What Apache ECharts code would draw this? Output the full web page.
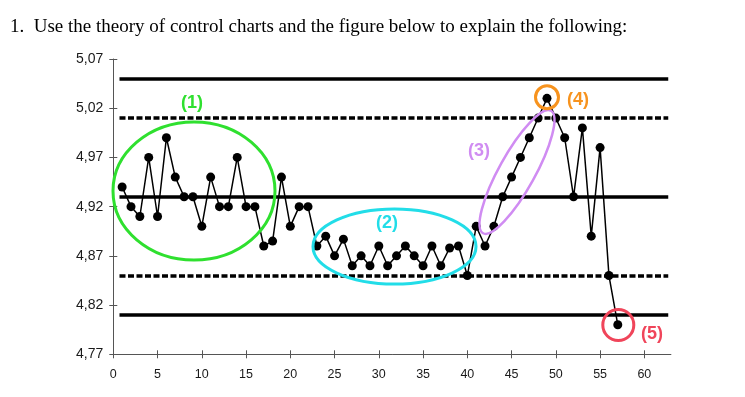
<!DOCTYPE html>
<html>
<head>
<meta charset="utf-8">
<script src="https://cdn.jsdelivr.net/npm/echarts@6/dist/echarts.min.js"></script>
<style>
  html, body { margin: 0; padding: 0; background: #fff; }
  #chart-box { width: 745px; height: 397px; }
</style>
</head>
<body>
<div id="chart-box"></div>
<script>
// sample values, sample n = index + 1
const sampleValues = [4.94, 4.92, 4.91, 4.97, 4.91, 4.99, 4.95, 4.93, 4.93, 4.90,
  4.95, 4.92, 4.92, 4.97, 4.92, 4.92, 4.88, 4.885, 4.95, 4.90,
  4.92, 4.92, 4.88, 4.89, 4.87, 4.887, 4.86, 4.87, 4.86, 4.88,
  4.86, 4.87, 4.88, 4.87, 4.86, 4.88, 4.86, 4.878, 4.88, 4.85,
  4.90, 4.88, 4.90, 4.93, 4.95, 4.97, 4.99, 5.01, 5.03, 5.01,
  4.99, 4.93, 5.00, 4.89, 4.98, 4.85, 4.80];
const limitLines = [5.05, 4.93, 4.81];   // UCL, CL, LCL
const warnLines = [5.01, 4.85];
const xTicks = [0, 5, 10, 15, 20, 25, 30, 35, 40, 45, 50, 55, 60];
const yTicks = [4.77, 4.82, 4.87, 4.92, 4.97, 5.02, 5.07];
const noteLabels = ['(1)', '(2)', '(3)', '(4)', '(5)'];

const chartObj = echarts.init(document.getElementById('chart-box'));

const axisColor = '#555';
const lineStart = 0.7, lineEnd = 62.7;

let markData = [];
limitLines.forEach(v => {
  markData.push([{ coord: [lineStart, v], lineStyle: { type: 'solid', width: 3.5 } }, { coord: [lineEnd, v] }]);
});
warnLines.forEach(v => {
  markData.push([{ coord: [lineStart, v], lineStyle: { type: [6, 2.5], width: 3.5 } }, { coord: [lineEnd, v] }]);
});

const option = {
  animation: false,
  title: {
    text: '1.  Use the theory of control charts and the figure below to explain the following:',
    left: 5,
    top: 13,
    textStyle: { fontFamily: 'Liberation Serif', fontSize: 19, fontWeight: 'normal', color: '#000' }
  },
  grid: { left: 113.3, top: 59, width: 557.6, height: 295.3 },
  xAxis: [
    {
      type: 'value', min: 0, max: 63,
      axisLine: { lineStyle: { color: axisColor, width: 1 } },
      axisTick: { length: 4, customValues: xTicks, lineStyle: { color: axisColor } },
      axisLabel: { customValues: xTicks, margin: 14, color: '#1a1a1a', fontFamily: 'Liberation Sans', fontSize: 12.5 },
      splitLine: { show: false }
    },
    {
      type: 'value', min: 0, max: 63, position: 'bottom',
      axisLine: { show: false },
      axisTick: { inside: true, length: 4, customValues: xTicks, lineStyle: { color: axisColor } },
      axisLabel: { show: false },
      splitLine: { show: false }
    }
  ],
  yAxis: [
    {
      type: 'value', min: 4.77, max: 5.07,
      axisLine: { show: true, lineStyle: { color: axisColor, width: 1 } },
      axisTick: { show: true, length: 4, customValues: yTicks, lineStyle: { color: axisColor } },
      axisLabel: {
        customValues: yTicks, margin: 10, color: '#1a1a1a', fontFamily: 'Liberation Sans', fontSize: 14,
        formatter: v => v.toFixed(2).replace('.', ',')
      },
      splitLine: { show: false }
    },
    {
      type: 'value', min: 4.77, max: 5.07, position: 'left',
      axisLine: { show: false },
      axisTick: { show: true, inside: true, length: 4, customValues: yTicks, lineStyle: { color: axisColor } },
      axisLabel: { show: false },
      splitLine: { show: false }
    }
  ],
  series: [
    {
      type: 'line',
      data: sampleValues.map((v, i) => [i + 1, v]),
      symbol: 'circle',
      symbolSize: 9,
      itemStyle: { color: '#000' },
      lineStyle: { color: '#000', width: 1.5 },
      z: 5,
      markLine: {
        silent: true,
        symbol: 'none',
        label: { show: false },
        lineStyle: { color: '#000' },
        data: markData
      }
    }
  ]
};
chartObj.setOption(option);

// annotations
const noteFont = 'bold 18px Liberation Sans';
chartObj.setOption({
  graphic: [
    { type: 'ellipse', shape: { cx: 194, cy: 191, rx: 81, ry: 69 }, style: { fill: 'none', stroke: '#2fe02f', lineWidth: 3 }, z: 10 },
    { type: 'ellipse', shape: { cx: 394.5, cy: 246.5, rx: 81.5, ry: 37.5 }, style: { fill: 'none', stroke: '#22dde8', lineWidth: 3 }, z: 10 },
    { type: 'ellipse', x: 517, y: 172, rotation: 61 * Math.PI / 180, shape: { cx: 0, cy: 0, rx: 70, ry: 18 }, style: { fill: 'none', stroke: '#d08cf2', lineWidth: 2.5 }, z: 10 },
    { type: 'circle', shape: { cx: 547, cy: 97.3, r: 11.5 }, style: { fill: 'none', stroke: '#f7931e', lineWidth: 3 }, z: 10 },
    { type: 'circle', shape: { cx: 618.3, cy: 325, r: 15.5 }, style: { fill: 'none', stroke: '#f0455a', lineWidth: 3 }, z: 10 },
    { type: 'text', x: 192, y: 103, style: { text: noteLabels[0], font: noteFont, fill: '#2fe02f', align: 'center', verticalAlign: 'middle' }, z: 10 },
    { type: 'text', x: 387, y: 223, style: { text: noteLabels[1], font: noteFont, fill: '#22dde8', align: 'center', verticalAlign: 'middle' }, z: 10 },
    { type: 'text', x: 479, y: 151, style: { text: noteLabels[2], font: noteFont, fill: '#d08cf2', align: 'center', verticalAlign: 'middle' }, z: 10 },
    { type: 'text', x: 578, y: 100, style: { text: noteLabels[3], font: noteFont, fill: '#f7931e', align: 'center', verticalAlign: 'middle' }, z: 10 },
    { type: 'text', x: 652, y: 334, style: { text: noteLabels[4], font: noteFont, fill: '#f0455a', align: 'center', verticalAlign: 'middle' }, z: 10 }
  ]
});
</script>
</body>
</html>
